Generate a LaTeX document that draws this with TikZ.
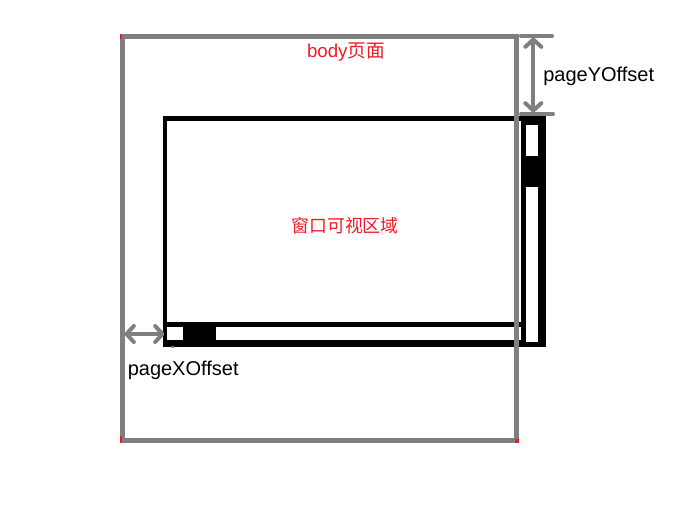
\documentclass[tikz,border=0pt]{standalone}
\usepackage{fontspec}
\setmainfont{Liberation Sans}
\newfontfamily\cjkfont{Noto Sans CJK SC}
\usetikzlibrary{arrows.meta}
\definecolor{pgray}{RGB}{127,127,127}
\definecolor{pred}{RGB}{237,28,36}
\tikzset{
  bodyline/.style={draw=pgray, line width=3.75pt},
  dimline/.style={draw=pgray, line width=3pt, line cap=round,
    arrows={Straight Barb[length=5.5pt,width=12pt,round]-Straight Barb[length=5.5pt,width=12pt,round]}},
  capline/.style={draw=pgray, line width=3pt, line cap=round},
  lbl/.style={inner sep=0pt, font=\fontsize{15pt}{18pt}\selectfont},
  redlbl/.style={inner sep=0pt, text=pred, font=\fontsize{14pt}{17pt}\selectfont},
  redcjk/.style={inner sep=0pt, text=pred, font=\fontsize{13.4pt}{16pt}\selectfont\cjkfont},
}
\begin{document}
\begin{tikzpicture}[x=0.75pt,y=-0.75pt]
\useasboundingbox (0,0) rectangle (680,525);
\fill[white] (0,0) rectangle (680,525);

% window (black frame with scrollbars)
\coordinate (wNW) at (163,115.7);
\coordinate (wSE) at (545.7,347.3);
\fill[black] (wNW) rectangle (wSE);
\fill[white] (167.3,120.7) rectangle (520.7,321.7);
\fill[white] (526,125) rectangle (538.3,155.7);
\fill[white] (526,186.7) rectangle (538.3,341.7);
\fill[white] (167.3,327.3) rectangle (183.3,340);
\fill[white] (216,327.3) rectangle (520.7,340);

% body page
\coordinate (bNW) at (122,36.5);
\coordinate (bSE) at (516.5,440.3);
\draw[bodyline] (bNW) rectangle (bSE);

% small marks
\fill[pgray] (171,345.5) rectangle (173.5,348);
\fill[pred] (119.5,34) rectangle (121.5,39);
\fill[pred] (119.5,436) rectangle (121.5,442.5);
\fill[pred] (514.5,438.5) rectangle (518.5,442.5);

% pageYOffset dimension
\coordinate (yCapL) at (521,35.7);
\coordinate (yCapR) at (552,35.7);
\coordinate (yCapL2) at (521,114.2);
\coordinate (yCapR2) at (553,114.2);
\coordinate (yTop) at (533.3,37.5);
\coordinate (yBot) at (533.3,112.5);
\draw[capline] (yCapL) -- (yCapR);
\draw[capline] (yCapL2) -- (yCapR2);
\draw[dimline] (yTop) -- (yBot);

% pageXOffset dimension
\coordinate (xL) at (124.5,334);
\coordinate (xR) at (164.5,334);
\draw[dimline] (xL) -- (xR);

% labels
\node[redlbl, anchor=base] (body) at (346,57.3) {body{\cjkfont 页面}};
\node[redcjk, anchor=center] (win) at (345,226) {窗口可视区域};
\node[lbl, anchor=base west] (ylbl) at (543,81) {pageYOffset};
\node[lbl, anchor=base west] (xlbl) at (127.5,375.7) {pageXOffset};
\end{tikzpicture}
\end{document}
